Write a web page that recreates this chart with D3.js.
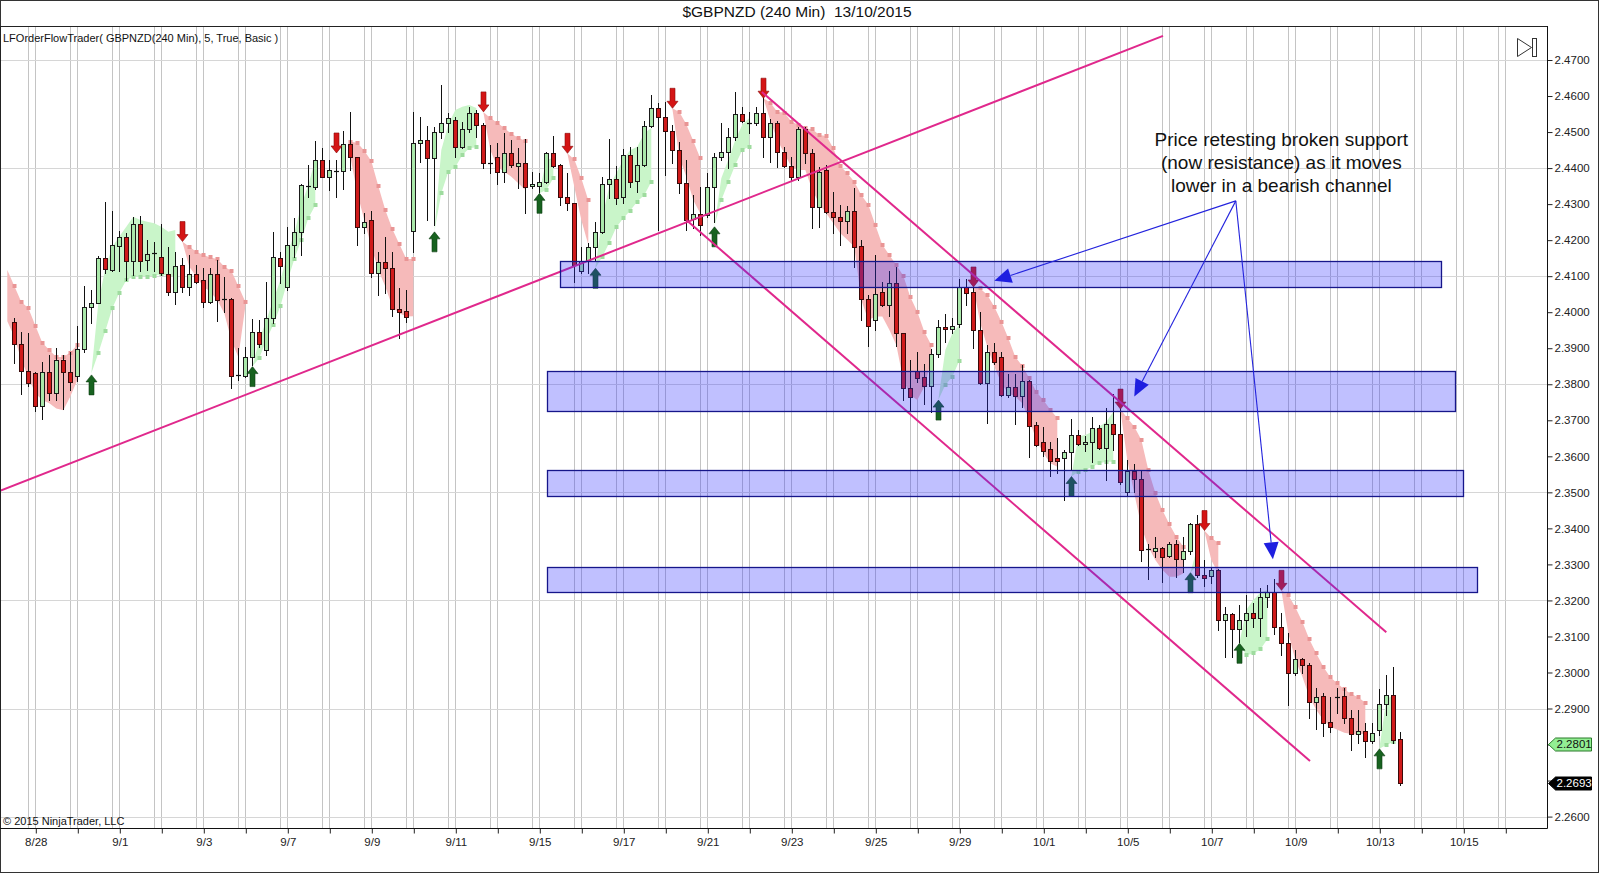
<!DOCTYPE html>
<html><head><meta charset="utf-8">
<script src="https://cdn.jsdelivr.net/npm/d3@7"></script>
<style>
html,body{margin:0;padding:0;background:#fff;}
svg{display:block;font-family:"Liberation Sans",Arial,sans-serif;}
</style></head><body>
<svg id="chart" width="1600" height="874"></svg>
<script>
// ---------------- DATA ----------------
const chartTitle = "$GBPNZD (240 Min)  13/10/2015";
const indicatorLabel = "LFOrderFlowTrader( GBPNZD(240 Min), 5, True, Basic )";
const copyright = "\u00A9 2015 NinjaTrader, LLC";
const dayLabels = ["8/28","8/31","9/1","9/2","9/3","9/4","9/7","9/8","9/9","9/10","9/11","9/14","9/15","9/16","9/17","9/18","9/21","9/22","9/23","9/24","9/25","9/28","9/29","9/30","10/1","10/2","10/5","10/6","10/7","10/8","10/9","10/12","10/13","10/14","10/15","10/16"];
const barsPerDay = 6, firstTickBar = 3;
const priceTicks = [2.26,2.27,2.28,2.29,2.30,2.31,2.32,2.33,2.34,2.35,2.36,2.37,2.38,2.39,2.40,2.41,2.42,2.43,2.44,2.45,2.46,2.47];
const gridPrices = [2.26,2.29,2.32,2.35,2.38,2.41,2.44,2.47];

const open = [2.3974,2.3911,2.3838,2.3832,2.3741,2.3835,2.3775,2.3867,2.3833,2.3824,
2.3897,2.4014,2.4025,2.4150,2.4117,2.4185,2.4208,2.4142,2.4245,2.4144,
2.4164,2.4153,2.4106,2.4055,2.4131,2.4069,2.4106,2.4089,2.4028,2.4106,
2.4036,2.4037,2.3826,2.3824,2.3876,2.3944,2.3895,2.3983,2.4151,2.4071,
2.4187,2.4223,2.4350,2.4348,2.4423,2.4376,2.4393,2.4392,2.4466,2.4430,
2.4237,2.4256,2.4108,2.4139,2.4122,2.4008,2.4004,2.4226,2.4469,2.4478,
2.4427,2.4501,2.4524,2.4533,2.4459,2.4508,2.4552,2.4520,2.4415,2.4430,
2.4388,2.4443,2.4407,2.4413,2.4350,2.4350,2.4361,2.4443,2.4409,2.4319,
2.4302,2.4115,2.4145,2.4180,2.4223,2.4356,2.4370,2.4321,2.4436,2.4365,
2.4409,2.4517,2.4566,2.4543,2.4504,2.4450,2.4358,2.4258,2.4272,2.4270,
2.4347,2.4430,2.4446,2.4486,2.4550,2.4526,2.4526,2.4552,2.4486,2.4526,
2.4446,2.4406,2.4376,2.4508,2.4443,2.4293,2.4395,2.4279,2.4263,2.4254,
2.4282,2.4184,2.4036,2.3978,2.4057,2.4020,2.4080,2.3942,2.3789,2.3837,
2.3821,2.3795,2.3883,2.3958,2.3953,2.3967,2.4069,2.4057,2.3950,2.3803,
2.3890,2.3875,2.3770,2.3793,2.3767,2.3810,2.3687,2.3641,2.3620,2.3595,
2.3595,2.3613,2.3659,2.3634,2.3641,2.3678,2.3623,2.3690,2.3662,2.3502,
2.3560,2.3537,2.3342,2.3338,2.3345,2.3324,2.3357,2.3314,2.3338,2.3412,
2.3271,2.3268,2.3284,2.3146,2.3163,2.3120,2.3146,2.3166,2.3151,2.3209,
2.3224,2.3127,2.3081,2.2999,2.3037,2.3021,2.2919,2.2935,2.2863,2.2932,
2.2935,2.2873,2.2829,2.2838,2.2810,2.2840,2.2913,2.2938,2.2815];
const high = [2.3984,2.3946,2.3943,2.3834,2.3863,2.3881,2.3900,2.3881,2.3890,2.3962,
2.4073,2.4062,2.4156,2.4307,2.4282,2.4226,2.4219,2.4263,2.4267,2.4201,
2.4196,2.4245,2.4182,2.4168,2.4150,2.4159,2.4131,2.4124,2.4122,2.4145,
2.4099,2.4040,2.3900,2.3904,2.3981,2.3978,2.4085,2.4223,2.4168,2.4237,
2.4261,2.4356,2.4409,2.4475,2.4455,2.4423,2.4423,2.4503,2.4556,2.4430,
2.4274,2.4282,2.4168,2.4208,2.4168,2.4066,2.4062,2.4556,2.4541,2.4517,
2.4515,2.4631,2.4552,2.4543,2.4529,2.4570,2.4561,2.4524,2.4464,2.4469,
2.4498,2.4478,2.4455,2.4480,2.4390,2.4386,2.4446,2.4489,2.4412,2.4386,
2.4304,2.4182,2.4193,2.4251,2.4376,2.4480,2.4406,2.4452,2.4458,2.4458,
2.4532,2.4603,2.4580,2.4584,2.4520,2.4473,2.4423,2.4325,2.4348,2.4386,
2.4441,2.4526,2.4511,2.4612,2.4570,2.4556,2.4570,2.4608,2.4535,2.4532,
2.4458,2.4430,2.4515,2.4515,2.4452,2.4404,2.4409,2.4335,2.4298,2.4295,
2.4344,2.4201,2.4048,2.4159,2.4085,2.4113,2.4126,2.3943,2.3867,2.3890,
2.3856,2.3897,2.3978,2.3995,2.3983,2.4091,2.4091,2.4071,2.4001,2.3909,
2.3914,2.3890,2.3828,2.3828,2.3853,2.3812,2.3696,2.3682,2.3641,2.3650,
2.3617,2.3703,2.3673,2.3655,2.3709,2.3687,2.3733,2.3773,2.3734,2.3590,
2.3579,2.3562,2.3357,2.3377,2.3349,2.3363,2.3368,2.3377,2.3416,2.3437,
2.3312,2.3292,2.3286,2.3183,2.3164,2.3187,2.3215,2.3192,2.3234,2.3243,
2.3260,2.3164,2.3109,2.3063,2.3039,2.3026,2.2956,2.2942,2.2932,2.2956,
2.2956,2.2896,2.2896,2.2859,2.2859,2.2953,2.2993,2.3015,2.2836];
const low = [2.3858,2.3772,2.3795,2.3727,2.3704,2.3756,2.3756,2.3731,2.3784,2.3809,
2.3890,2.3971,2.4025,2.4108,2.4113,2.4115,2.4089,2.4103,2.4113,2.4117,
2.4115,2.4103,2.4048,2.4023,2.4057,2.4048,2.4081,2.4014,2.4025,2.3976,
2.4001,2.3789,2.3812,2.3819,2.3853,2.3904,2.3881,2.3969,2.4082,2.4062,
2.4154,2.4159,2.4319,2.4341,2.4374,2.4339,2.4321,2.4341,2.4395,2.4187,
2.4221,2.4099,2.4048,2.4054,2.3989,2.3928,2.3974,2.4168,2.4418,2.4256,
2.4242,2.4483,2.4501,2.4430,2.4455,2.4501,2.4487,2.4399,2.4386,2.4356,
2.4360,2.4404,2.4344,2.4274,2.4344,2.4335,2.4358,2.4404,2.4298,2.4284,
2.4085,2.4108,2.4108,2.4145,2.4219,2.4316,2.4300,2.4302,2.4348,2.4335,
2.4406,2.4515,2.4228,2.4381,2.4413,2.4330,2.4228,2.4233,2.4214,2.4265,
2.4251,2.4423,2.4400,2.4478,2.4529,2.4496,2.4520,2.4432,2.4418,2.4402,
2.4402,2.4367,2.4367,2.4413,2.4233,2.4237,2.4274,2.4219,2.4187,2.4219,
2.4126,2.3978,2.3906,2.3950,2.4016,2.3989,2.3906,2.3756,2.3728,2.3807,
2.3745,2.3724,2.3876,2.3918,2.3942,2.3960,2.4020,2.3900,2.3801,2.3693,
2.3856,2.3767,2.3766,2.3689,2.3738,2.3597,2.3629,2.3601,2.3544,2.3555,
2.3479,2.3562,2.3631,2.3616,2.3583,2.3620,2.3534,2.3617,2.3524,2.3490,
2.3502,2.3310,2.3259,2.3321,2.3252,2.3320,2.3266,2.3280,2.3329,2.3266,
2.3239,2.3248,2.3118,2.3044,2.3044,2.3086,2.3101,2.3127,2.3101,2.3181,
2.3107,2.3049,2.2910,2.2993,2.2998,2.2873,2.2842,2.2823,2.2836,2.2887,
2.2859,2.2785,2.2804,2.2765,2.2804,2.2826,2.2882,2.2805,2.2688];
const close = [2.3911,2.3838,2.3803,2.3741,2.3835,2.3775,2.3867,2.3833,2.3807,2.3897,
2.4014,2.4025,2.4150,2.4119,2.4187,2.4208,2.4142,2.4245,2.4142,2.4162,
2.4162,2.4110,2.4055,2.4129,2.4069,2.4106,2.4085,2.4028,2.4106,2.4034,
2.4034,2.3824,2.3825,2.3876,2.3944,2.3912,2.3983,2.4154,2.4129,2.4187,
2.4223,2.4353,2.4351,2.4423,2.4376,2.4395,2.4393,2.4466,2.4430,2.4237,
2.4250,2.4108,2.4140,2.4122,2.4008,2.4001,2.3986,2.4469,2.4478,2.4427,
2.4501,2.4524,2.4538,2.4459,2.4508,2.4552,2.4520,2.4413,2.4413,2.4388,
2.4443,2.4409,2.4413,2.4348,2.4356,2.4361,2.4441,2.4406,2.4319,2.4302,
2.4131,2.4143,2.4180,2.4223,2.4356,2.4370,2.4316,2.4436,2.4362,2.4409,
2.4517,2.4566,2.4541,2.4504,2.4450,2.4358,2.4256,2.4272,2.4242,2.4347,
2.4430,2.4446,2.4486,2.4550,2.4532,2.4526,2.4552,2.4486,2.4526,2.4446,
2.4406,2.4376,2.4508,2.4443,2.4293,2.4390,2.4279,2.4263,2.4254,2.4282,
2.4182,2.4036,2.3962,2.4051,2.4020,2.4080,2.3942,2.3789,2.3764,2.3818,
2.3795,2.3883,2.3958,2.3953,2.3962,2.4069,2.4052,2.3950,2.3803,2.3890,
2.3863,2.3770,2.3793,2.3767,2.3810,2.3684,2.3632,2.3616,2.3588,2.3588,
2.3613,2.3659,2.3634,2.3641,2.3678,2.3623,2.3690,2.3662,2.3530,2.3560,
2.3537,2.3340,2.3340,2.3345,2.3320,2.3357,2.3314,2.3338,2.3412,2.3271,
2.3261,2.3284,2.3146,2.3163,2.3120,2.3146,2.3164,2.3151,2.3209,2.3224,
2.3127,2.3081,2.2999,2.3037,2.3021,2.2919,2.2933,2.2861,2.2849,2.2932,
2.2873,2.2829,2.2838,2.2810,2.2833,2.2913,2.2938,2.2813,2.2693];

// signal arrows: bar, direction (1 up / -1 down), tip price
const signalBar   = [11,24,34,46,60,67,75,79,83,94,100,107,132,137,151,158,168,170,175,181,195];
const signalDir   = [1,-1,1,-1,1,-1,1,-1,1,-1,1,-1,1,-1,1,-1,1,-1,1,-1,1];
const signalPrice = [2.3826,2.4196,2.3849,2.4442,2.4223,2.4556,2.4330,2.4441,2.4122,2.4566,2.4237,2.4594,2.3756,2.4070,2.3544,2.3731,2.3277,2.3394,2.3081,2.3228,2.2788];

// indicator bands: first bar, direction, stop line (dots) and far edge per bar
const bandStart = [-1,11,24,34,48,60,67,75,79,83,94,100,107,132,137,151,158,168,170,175,181,195];
const bandDir   = [-1,1,-1,1,-1,1,-1,1,-1,1,-1,1,-1,1,-1,1,-1,1,-1,1,-1,1];
const bandStop = [
 [2.4117,2.4073,2.4028,2.4012,2.3963,2.3915,2.3895,2.3876,2.3876,2.3888,2.3909],
 [2.3830,2.3886,2.3948,2.4011,2.4054,2.4089,2.4099,2.4099,2.4099,2.4101,2.4106,2.4099,2.4099],
 [2.4196,2.4182,2.4168,2.4159,2.4152,2.4148,2.4126,2.4115,2.4073,2.4029],
 [2.3849,2.3873,2.3923,2.3965,2.4016,2.4085,2.4147,2.4201,2.4261,2.4297],
 [2.4473,2.4470,2.4448,2.4420,2.4350,2.4284,2.4231,2.4189,2.4148,2.4148],
 [2.4223,2.4330,2.4390,2.4402,2.4436,2.4455,2.4458],
 [2.4556,2.4539,2.4526,2.4511,2.4495,2.4484,2.4476],
 [2.4330,2.4339,2.4372],
 [2.4441,2.4424,2.4372,2.4311],
 [2.4122,2.4154,2.4193,2.4236,2.4261,2.4282,2.4307,2.4325,2.4362],
 [2.4566,2.4556,2.4522,2.4475,2.4427],
 [2.4237,2.4311,2.4361,2.4409,2.4450,2.4459],
 [2.4594,2.4582,2.4556,2.4554,2.4529,2.4520,2.4510,2.4508,2.4492,2.4489,2.4455,2.4406,2.4386,2.4362,2.4325,2.4298,2.4242,2.4187,2.4159,2.4131,2.4101,2.4042,2.4001,2.3946,2.3909],
 [2.3756,2.3798,2.3821,2.3865],
 [2.4071,2.4066,2.4048,2.4015,2.3974,2.3928,2.3876,2.3851,2.3817,2.3779,2.3756,2.3729,2.3706],
 [2.3544,2.3557,2.3562,2.3571,2.3581,2.3585,2.3585],
 [2.3731,2.3706,2.3682,2.3646,2.3562,2.3499,2.3451,2.3412,2.3377,2.3349],
 [2.3277,2.3298],
 [2.3394,2.3373,2.3360],
 [2.3081,2.3048,2.3053,2.3064,2.3092],
 [2.3229,2.3215,2.3181,2.3141,2.3092,2.3053,2.3016,2.2987,2.2970,2.2953,2.2940,2.2931,2.2916],
 [2.2788,2.2799,2.2807]
];
const bandEdge = [
 [2.3975,2.3932,2.3867,2.3821,2.3775,2.3756,2.3747,2.3733,2.3728,2.3766,2.3812],
 [2.3830,2.4025,2.4122,2.4182,2.4210,2.4237,2.4265,2.4256,2.4251,2.4247,2.4237,2.4223,2.4228],
 [2.4196,2.4126,2.4099,2.4071,2.4057,2.4034,2.3997,2.3923,2.3876,2.4015],
 [2.3849,2.3923,2.3978,2.4034,2.4089,2.4159,2.4219,2.4297,2.4353,2.4423],
 [2.4432,2.4330,2.4256,2.4182,2.4117,2.4071,2.4015,2.3997,2.3988,2.3989],
 [2.4223,2.4450,2.4520,2.4561,2.4570,2.4575,2.4567],
 [2.4556,2.4450,2.4404,2.4390,2.4376,2.4358,2.4339],
 [2.4330,2.4423,2.4428],
 [2.4441,2.4348,2.4256,2.4187],
 [2.4122,2.4265,2.4348,2.4386,2.4423,2.4450,2.4459,2.4497,2.4511],
 [2.4566,2.4432,2.4376,2.4311,2.4274],
 [2.4237,2.4372,2.4423,2.4478,2.4520,2.4539],
 [2.4594,2.4533,2.4478,2.4441,2.4404,2.4395,2.4395,2.4339,2.4302,2.4274,2.4247,2.4219,2.4201,2.4182,2.4034,2.3978,2.3988,2.3988,2.3951,2.3909,2.3812,2.3770,2.3756,2.3793,2.3867],
 [2.3756,2.3895,2.3941,2.3965],
 [2.4071,2.3969,2.3904,2.3849,2.3803,2.3775,2.3766,2.3747,2.3701,2.3646,2.3609,2.3581,2.3571],
 [2.3544,2.3655,2.3659,2.3668,2.3682,2.3696,2.3724],
 [2.3731,2.3590,2.3497,2.3405,2.3349,2.3312,2.3285,2.3266,2.3266,2.3275],
 [2.3277,2.3346],
 [2.3394,2.3312,2.3275],
 [2.3081,2.3174,2.3201,2.3221,2.3229],
 [2.3229,2.3109,2.3035,2.2989,2.2933,2.2896,2.2868,2.2850,2.2841,2.2833,2.2829,2.2827,2.2831],
 [2.2788,2.2924,2.2938]
];

// support / resistance zones (bar range, price range)
const zoneFrom   = [77.96, 76.1, 76.1, 76.1];
const zoneTo     = [203.8, 205.8, 207.0, 209.0];
const zoneTop    = [2.4142, 2.3838, 2.3562, 2.3292];
const zoneBottom = [2.4069, 2.3727, 2.3490, 2.3224];

// trend / channel lines: [bar1, price1, bar2, price2]
const trendLines = [[-2.04, 2.3504, 164.1, 2.4767], [106.8, 2.4611, 196.0, 2.3112], [96.0, 2.4256, 185.1, 2.2754]];

// annotation
const noteLines = ["Price retesting broken support", "(now resistance) as it moves", "lower in a bearish channel"];
const noteAnchor = [181.0, 2.4476];
const noteFrom = [174.5, 2.4309];
const noteTargets = [[140.0, 2.4087], [160.0, 2.3766], [179.8, 2.3314]];
const lastStopValue = 2.2801;

// ---------------- DRAW ----------------
const svg = d3.select('#chart');
const plotL = 0, plotR = 1547, plotT = 26, plotB = 828;
const xs = d3.scaleLinear().domain([-2.043, 218.957]).range([plotL, plotR]);
const ys = d3.scaleLinear().domain([2.26, 2.47]).range([816.6, 60]);
const font = '"Liberation Sans", Arial, sans-serif';

svg.append('defs').append('clipPath').attr('id', 'clip')
  .append('rect').attr('x', plotL).attr('y', plotT).attr('width', plotR - plotL).attr('height', plotB - plotT);

// outer frame
svg.append('rect').attr('x', 0.5).attr('y', 0.5).attr('width', 1598).attr('height', 872)
  .attr('fill', 'none').attr('stroke', '#333');

// title
svg.append('text').attr('x', 797).attr('y', 13).attr('text-anchor', 'middle').attr('dominant-baseline', 'middle')
  .style('white-space', 'pre').attr('font-size', 15.5).attr('fill', '#111').text(chartTitle);

const plot = svg.append('g').attr('clip-path', 'url(#clip)');

// grid
const dayTickIdx = dayLabels.map((d, k) => firstTickBar + barsPerDay * k);
dayTickIdx.forEach(t => {
  [t - 1, t].forEach(v => {
    const x = Math.round(xs(v)) + 0.5;
    plot.append('line').attr('x1', x).attr('x2', x).attr('y1', plotT).attr('y2', plotB)
      .attr('stroke', '#c4c4c4').attr('stroke-width', 1);
  });
});
gridPrices.forEach(p => {
  const y = Math.round(ys(p)) + 0.5;
  plot.append('line').attr('x1', plotL).attr('x2', plotR).attr('y1', y).attr('y2', y)
    .attr('stroke', '#d6d6d6').attr('stroke-width', 1);
});

// bands
const bandArea = d3.area().x(d => xs(d.i)).y0(d => ys(d.stop)).y1(d => ys(d.edge));
const gBands = plot.append('g');
const gDots = plot.append('g');
bandStart.forEach((s, b) => {
  const pts = bandStop[b].map((v, j) => ({ i: s + j, stop: v, edge: bandEdge[b][j] }));
  gBands.append('path').datum(pts).attr('d', bandArea)
    .attr('fill', bandDir[b] > 0 ? '#c9f5c9' : '#f6baba');
  pts.forEach(p => {
    if (p.stop === p.edge || p.i < 0) return;
    gDots.append('rect').attr('x', Math.round(xs(p.i)) - 1.5).attr('y', Math.round(ys(p.stop)) - 2)
      .attr('width', 4).attr('height', 4)
      .attr('fill', bandDir[b] > 0 ? '#9fdc9f' : '#e99595');
  });
});

// candles
const gC = plot.append('g');
open.forEach((o, i) => {
  const c = close[i], h = high[i], l = low[i];
  const cx = Math.round(xs(i));
  gC.append('line').attr('x1', cx + 0.5).attr('x2', cx + 0.5)
    .attr('y1', Math.round(ys(h))).attr('y2', Math.round(ys(l)) + 1)
    .attr('stroke', '#111').attr('stroke-width', 1);
  const yTop = Math.round(ys(Math.max(o, c))), yBot = Math.round(ys(Math.min(o, c)));
  if (yBot - yTop < 2) {
    gC.append('line').attr('x1', cx - 2).attr('x2', cx + 3).attr('y1', yTop + 0.5).attr('y2', yTop + 0.5)
      .attr('stroke', '#111').attr('stroke-width', 1.2);
  } else {
    gC.append('rect').attr('x', cx - 1.5).attr('y', yTop + 0.5).attr('width', 4).attr('height', yBot - yTop)
      .attr('fill', c >= o ? '#aae8aa' : '#cf1a1a').attr('stroke', c >= o ? '#1a1a1a' : '#3a0a0a').attr('stroke-width', 1);
  }
});

// signal arrows
const gA = plot.append('g');
signalBar.forEach((b, k) => {
  const cx = Math.round(xs(b)) + 0.5, y = ys(signalPrice[k]), d = signalDir[k];
  const s = d > 0 ? 1 : -1;
  const path = `M${cx},${y} L${cx + 5.5},${y + s * 7} L${cx + 2.5},${y + s * 7} L${cx + 2.5},${y + s * 20} L${cx - 2.5},${y + s * 20} L${cx - 2.5},${y + s * 7} L${cx - 5.5},${y + s * 7} Z`;
  gA.append('path').attr('d', path)
    .attr('fill', d > 0 ? '#17621f' : '#d41515')
    .attr('stroke', d > 0 ? '#0b3d11' : '#8a0a0a').attr('stroke-width', 0.6);
});

// trend lines
const gT = plot.append('g');
trendLines.forEach(t => {
  gT.append('line').attr('x1', xs(t[0])).attr('y1', ys(t[1])).attr('x2', xs(t[2])).attr('y2', ys(t[3]))
    .attr('stroke', '#e0288c').attr('stroke-width', 2);
});

// zones
zoneTop.forEach((top, k) => {
  const x0 = Math.round(xs(zoneFrom[k])) + 0.5, x1 = Math.round(xs(zoneTo[k])) + 0.5;
  const y0 = Math.round(ys(top)) + 0.5, y1 = Math.round(ys(zoneBottom[k])) + 0.5;
  plot.append('rect').attr('x', x0).attr('y', y0).attr('width', x1 - x0).attr('height', y1 - y0)
    .attr('fill', 'rgba(45,45,255,0.30)').attr('stroke', '#16168a').attr('stroke-width', 1.3);
});

// annotation arrows
const gN = plot.append('g');
const fx = xs(noteFrom[0]), fy = ys(noteFrom[1]);
noteTargets.forEach(t => {
  const tx = xs(t[0]), ty = ys(t[1]);
  const ang = Math.atan2(ty - fy, tx - fx);
  const L = 17, Wd = 7.5;
  const bx = tx - L * Math.cos(ang), by = ty - L * Math.sin(ang);
  gN.append('line').attr('x1', fx).attr('y1', fy).attr('x2', bx).attr('y2', by)
    .attr('stroke', '#2323dd').attr('stroke-width', 1.1);
  const px = -Math.sin(ang) * Wd, py = Math.cos(ang) * Wd;
  gN.append('path').attr('d', `M${tx},${ty} L${bx + px},${by + py} L${bx - px},${by - py} Z`).attr('fill', '#1f1fe0');
});
noteLines.forEach((s, k) => {
  gN.append('text').attr('x', xs(noteAnchor[0])).attr('y', ys(noteAnchor[1]) + k * 23)
    .attr('text-anchor', 'middle').attr('dominant-baseline', 'middle')
    .attr('font-size', 19).attr('fill', '#111').text(s);
});

// indicator label & copyright
svg.append('text').attr('x', 3).attr('y', 39).attr('dominant-baseline', 'middle')
  .attr('font-size', 11).attr('fill', '#111').text(indicatorLabel);
svg.append('text').attr('x', 3).attr('y', 822).attr('dominant-baseline', 'middle')
  .attr('font-size', 11).attr('fill', '#111').text(copyright);

// "play to end" icon
svg.append('path').attr('d', 'M1517.5,38.5 L1531.5,47.5 L1517.5,56.5 Z').attr('fill', 'none').attr('stroke', '#333').attr('stroke-width', 1);
svg.append('rect').attr('x', 1532.5).attr('y', 38.5).attr('width', 4).attr('height', 18).attr('fill', 'none').attr('stroke', '#333').attr('stroke-width', 1);

// plot frame
svg.append('line').attr('x1', 0).attr('x2', plotR).attr('y1', plotT + 0.5).attr('y2', plotT + 0.5).attr('stroke', '#222');
svg.append('line').attr('x1', 0.5).attr('x2', 0.5).attr('y1', plotT).attr('y2', plotB).attr('stroke', '#222');

// axes
const flagPrices = [lastStopValue, close[close.length - 1]];
const yAxis = d3.axisRight(ys).tickValues(priceTicks).tickSize(5).tickPadding(2)
  .tickFormat(p => flagPrices.some(f => Math.abs(ys(f) - ys(p)) < 14) ? '' : d3.format('.4f')(p));
const gy = svg.append('g').attr('transform', `translate(${plotR + 0.5},0)`).call(yAxis);
gy.select('.domain').remove();
gy.selectAll('line').attr('stroke', '#222');
gy.selectAll('text').attr('font-family', font).attr('font-size', 11.5).attr('fill', '#222');
svg.append('line').attr('x1', plotR + 0.5).attr('x2', plotR + 0.5).attr('y1', plotT).attr('y2', plotB + 0.5).attr('stroke', '#111');

const xAxis = d3.axisBottom(xs).tickValues(dayTickIdx).tickSize(5).tickPadding(4)
  .tickFormat((d, k) => k % 2 === 0 ? dayLabels[k] : '');
const gx = svg.append('g').attr('transform', `translate(0.5,${plotB + 0.5})`).call(xAxis);
gx.select('.domain').remove();
gx.selectAll('line').attr('stroke', '#222');
gx.selectAll('text').attr('font-family', font).attr('font-size', 11.5).attr('fill', '#222');
svg.append('line').attr('x1', 0).attr('x2', plotR + 0.5).attr('y1', plotB + 0.5).attr('y2', plotB + 0.5).attr('stroke', '#111');

// value flags
const flagStyles = [{ fill: '#93ee93', stroke: '#2b7a2b', text: '#111' }, { fill: '#000', stroke: '#000', text: '#fff' }];
flagPrices.forEach((p, k) => {
  const y = Math.round(ys(p)) + 0.5, x0 = plotR + 1.5;
  svg.append('path').attr('d', `M${x0},${y} L${x0 + 7},${y - 6.5} L${x0 + 43},${y - 6.5} L${x0 + 43},${y + 6.5} L${x0 + 7},${y + 6.5} Z`)
    .attr('fill', flagStyles[k].fill).attr('stroke', flagStyles[k].stroke).attr('stroke-width', 1);
  svg.append('text').attr('x', x0 + 8).attr('y', y + 0.5).attr('dominant-baseline', 'middle')
    .attr('font-size', 11.5).attr('fill', flagStyles[k].text).text(d3.format('.4f')(p));
});
</script>
</body></html>
